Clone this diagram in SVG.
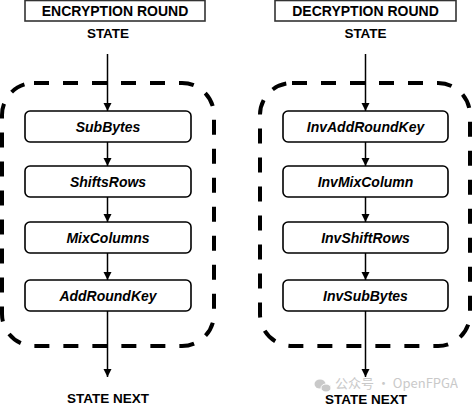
<svg xmlns="http://www.w3.org/2000/svg" width="474" height="407" viewBox="0 0 474 407">
<defs>
<marker id="ah" markerWidth="8" markerHeight="10" refX="8" refY="4" orient="auto" markerUnits="userSpaceOnUse" viewBox="0 0 8 8">
<path d="M0,0 L8,4 L0,8 z" fill="#000"/>
</marker>
<style>
.title{fill:#fff;stroke:#333;stroke-width:1.6}
.tt{font-family:"Liberation Sans",Arial,sans-serif;font-weight:bold;font-size:14px;text-anchor:middle;fill:#000}
.lbl{font-family:"Liberation Sans",Arial,sans-serif;font-weight:bold;font-size:13.5px;text-anchor:middle;fill:#000}
.box{fill:#fff;stroke:#000;stroke-width:1.6}
.bt{font-family:"Liberation Sans",Arial,sans-serif;font-weight:bold;font-style:italic;font-size:14px;text-anchor:middle;fill:#000}
.dash{fill:none;stroke:#000;stroke-width:4;stroke-dasharray:15 14}
.conn{stroke:#000;stroke-width:1.5;fill:none;marker-end:url(#ah)}
.wm{font-family:"Noto Sans CJK SC","Noto Sans",sans-serif;font-size:13px;fill:#c4c4c4}
</style>
</defs>
<rect width="474" height="407" fill="#fff"/>

<g id="enc-title"><rect class="title" x="25" y="0.5" width="180" height="20.5"/><text class="tt" x="115" y="16">ENCRYPTION ROUND</text></g>
<g id="dec-title"><rect class="title" x="275" y="0.5" width="181" height="20.5"/><text class="tt" x="365.5" y="16">DECRYPTION ROUND</text></g>

<g id="enc-state"><text class="lbl" x="108" y="38">STATE</text></g>
<g id="dec-state"><text class="lbl" x="365.5" y="38">STATE</text></g>

<g id="enc-frame"><rect class="dash" x="2" y="83" width="212" height="263" rx="32" ry="32"/></g>
<g id="dec-frame"><rect class="dash" x="260" y="83" width="210" height="263" rx="32" ry="32"/></g>

<g id="enc-subbytes"><rect class="box" x="25" y="111" width="166" height="31" rx="5"/><text class="bt" x="108" y="131.5">SubBytes</text></g>
<g id="enc-shiftrows"><rect class="box" x="25" y="166" width="166" height="31" rx="5"/><text class="bt" x="108" y="186.5">ShiftsRows</text></g>
<g id="enc-mixcolumns"><rect class="box" x="25" y="222" width="166" height="31" rx="5"/><text class="bt" x="108" y="242.5">MixColumns</text></g>
<g id="enc-addroundkey"><rect class="box" x="25" y="280" width="166" height="31" rx="5"/><text class="bt" x="108" y="300.5">AddRoundKey</text></g>

<g id="dec-invaddroundkey"><rect class="box" x="283" y="111" width="165" height="31" rx="5"/><text class="bt" x="365.5" y="131.5">InvAddRoundKey</text></g>
<g id="dec-invmixcolumn"><rect class="box" x="283" y="166" width="165" height="31" rx="5"/><text class="bt" x="365.5" y="186.5">InvMixColumn</text></g>
<g id="dec-invshiftrows"><rect class="box" x="283" y="222" width="165" height="31" rx="5"/><text class="bt" x="365.5" y="242.5">InvShiftRows</text></g>
<g id="dec-invsubbytes"><rect class="box" x="283" y="280" width="165" height="31" rx="5"/><text class="bt" x="365.5" y="300.5">InvSubBytes</text></g>

<g id="enc-statenext"><text class="lbl" x="108" y="403">STATE NEXT</text></g>
<g id="dec-statenext"><text class="lbl" x="366" y="404">STATE NEXT</text></g>

<g id="connectors">
<line class="conn" x1="107.5" y1="54" x2="107.5" y2="111"/>
<line class="conn" x1="107.5" y1="142" x2="107.5" y2="166"/>
<line class="conn" x1="107.5" y1="197" x2="107.5" y2="222"/>
<line class="conn" x1="107.5" y1="253" x2="107.5" y2="280"/>
<line class="conn" x1="107.5" y1="311" x2="107.5" y2="377"/>
<line class="conn" x1="365.5" y1="54" x2="365.5" y2="111"/>
<line class="conn" x1="365.5" y1="142" x2="365.5" y2="166"/>
<line class="conn" x1="365.5" y1="197" x2="365.5" y2="222"/>
<line class="conn" x1="365.5" y1="253" x2="365.5" y2="280"/>
<line class="conn" x1="365.5" y1="311" x2="365.5" y2="377"/>
</g>

<g id="watermark" opacity="0.9">
<ellipse cx="320" cy="384" rx="5.5" ry="4.5" fill="#c4c4c4"/>
<ellipse cx="326" cy="388" rx="5" ry="4" fill="#c4c4c4" stroke="#fff" stroke-width="1"/>
<text class="wm" x="335" y="388">公众号 · OpenFPGA</text>
</g>
</svg>
